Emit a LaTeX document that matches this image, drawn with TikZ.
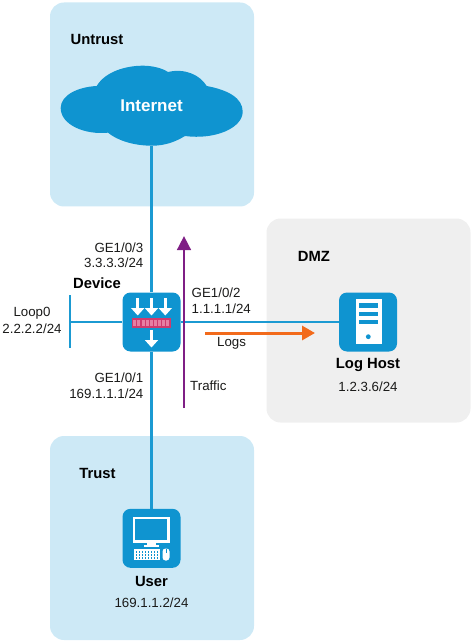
\documentclass[tikz,border=0pt]{standalone}
\usepackage{fontspec}
\setmainfont{Liberation Sans}
\definecolor{mZoneBlue}{HTML}{CDE9F6}
\definecolor{mZoneGrey}{HTML}{EFEFEF}
\definecolor{mIconBlue}{HTML}{0F94D0}
\definecolor{mLinkBlue}{HTML}{1B9AD2}
\definecolor{mBarRed}{HTML}{CF3A6E}
\definecolor{mBarPink}{HTML}{E77FA3}
\definecolor{mPurple}{HTML}{7F1F85}
\definecolor{mOrange}{HTML}{F26A1B}
\definecolor{mText}{HTML}{1A1A19}
\usetikzlibrary{arrows.meta}
\tikzset{
  zonebox/.style={rounded corners=14pt, minimum width=#1, minimum height=204pt, inner sep=0pt},
  iconbox/.style={fill=mIconBlue, rounded corners=8pt, minimum width=58pt, minimum height=59pt, inner sep=0pt},
  plain/.style={font=\fontsize{13.3}{16}\selectfont, text=mText, inner sep=0pt},
  heavy/.style={font=\fontsize{14.8}{17}\selectfont\bfseries, text=black, inner sep=0pt},
  link/.style={draw=mLinkBlue, line width=2.6pt},
  whiteon/.style={fill=white, draw=none}
}
\newcommand{\iconarrow}[3]{%
\draw[white, line width=3.4pt, -{Triangle[width=13pt,length=7.5pt]}] (#1,#2) -- (#1,#3);}
\begin{document}
\begin{tikzpicture}[x=1pt,y=-1pt]
\useasboundingbox (0,0) rectangle (474,644);
% zones
\node[zonebox=204pt, fill=mZoneBlue] (untrust) at (152,104.5) {};
\node[zonebox=204pt, fill=mZoneBlue] (trust) at (152,538) {};
\node[zonebox=204pt, fill=mZoneGrey] (dmz) at (368.5,320.5) {};
\node[heavy] (untrustlabel) at (97,39) {Untrust};
\node[heavy] (trustlabel) at (97.5,473) {Trust};
\node[heavy] (dmzlabel) at (314,256) {DMZ};
% cloud
\fill[mIconBlue] (60.7,108) .. controls (60.7,95) and (78,87) .. (96.7,86)
 .. controls (105,72) and (125,65.7) .. (143,65.7)
 .. controls (152,65.7) and (162,68) .. (168,72)
 .. controls (185,68) and (200,75) .. (206.7,86)
 .. controls (228,90) and (242.7,98) .. (242.7,111.7)
 .. controls (242.7,128) and (215,140) .. (185,136)
 .. controls (175,142) and (165,145.7) .. (151.7,145.7)
 .. controls (135,145.7) and (118,141) .. (108,132.7)
 .. controls (85,135) and (60.7,125) .. (60.7,108) -- cycle;
\node[minimum width=182pt, minimum height=80pt, inner sep=0pt, text=white, font=\fontsize{17}{20}\selectfont\bfseries] (internet) at (151.5,105.7) {Internet};
% devices
\node[iconbox] (device) at (151.5,322) {};
\node[iconbox] (loghost) at (368,322) {};
\node[iconbox] (user) at (151.5,538.3) {};
\coordinate (looptop) at (70,295);
\coordinate (loopbot) at (70,348);
\coordinate (loopmid) at (70,322);
% links
\draw[link] (internet.south) -- (device.north);
\draw[link] (device.south) -- (user.north);
\draw[link] (device.east) -- (loghost.west);
\draw[link] (device.west) -- (loopmid);
\draw[link] (looptop) -- (loopbot);
% flows
\coordinate (trafficfrom) at (184,408);
\coordinate (trafficto) at (184,236);
\coordinate (logsfrom) at (205,333);
\coordinate (logsto) at (315,333);
\draw[mPurple, line width=2.8pt, -{Triangle[width=13.5pt,length=14pt]}] (trafficfrom) -- (trafficto);
\draw[mOrange, line width=3pt, -{Triangle[width=14pt,length=13pt]}] (logsfrom) -- (logsto);
% device icon
\foreach \ax in {137.7,151.5,165.3}
 \iconarrow{\ax}{298}{315.5}
\fill[mBarRed] (131.7,318.3) rectangle (171,327.7);
\foreach \cx in {0,...,8}
 \fill[mBarPink] ({133.4+4.05*\cx},320.2) rectangle ({136.4+4.05*\cx},325.8);
\iconarrow{151.5}{330}{347.5}
% log host icon
\fill[whiteon] (355.7,299) rectangle (381.7,344);
\foreach \by in {303.3,311.7,320}
 \fill[mIconBlue] (359,\by) rectangle (377.5,\by+4.2);
\fill[mIconBlue] (368.3,336.7) circle (2.4pt);
% user icon
\draw[white, line width=2.2pt] (134,518) rectangle (168.5,541.5);
\fill[whiteon] (147,543) rectangle (156,545);
\fill[whiteon] (144,545) rectangle (159,547);
\fill[whiteon] (133.5,549) rectangle (160,560);
\foreach \ky in {551,554,557}
 \foreach \kx in {0,...,7}
  \fill[mIconBlue] ({135.5+3*\kx},\ky) rectangle ({137+3*\kx},\ky+1.5);
\fill[whiteon, rounded corners=3pt] (162.5,548.5) rectangle (169.5,560.5);
\draw[mIconBlue, line width=0.6pt] (166,549) -- (166,553);
% labels
\node[plain, anchor=east] (ge3) at (143.5,248) {GE1/0/3};
\node[plain, anchor=east] (ip3) at (143.5,263) {3.3.3.3/24};
\node[heavy] (devicelabel) at (97,283) {Device};
\node[plain] (loop) at (32,313) {Loop0};
\node[plain] (loopip) at (32,329) {2.2.2.2/24};
\node[plain, anchor=west] (ge2) at (191.5,293) {GE1/0/2};
\node[plain, anchor=west] (ip2) at (191.5,309) {1.1.1.1/24};
\node[plain, anchor=west] (logs) at (217,343) {Logs};
\node[plain, anchor=west] (traffic) at (190,386) {Traffic};
\node[plain, anchor=east] (ge1) at (143.5,378) {GE1/0/1};
\node[plain, anchor=east] (ip1) at (143.5,394) {169.1.1.1/24};
\node[heavy] (hostlabel) at (368,365) {Log Host};
\node[plain] (hostip) at (368,387) {1.2.3.6/24};
\node[heavy] (userlabel) at (151.5,581) {User};
\node[plain] (userip) at (151.5,603) {169.1.1.2/24};
\end{tikzpicture}
\end{document}
